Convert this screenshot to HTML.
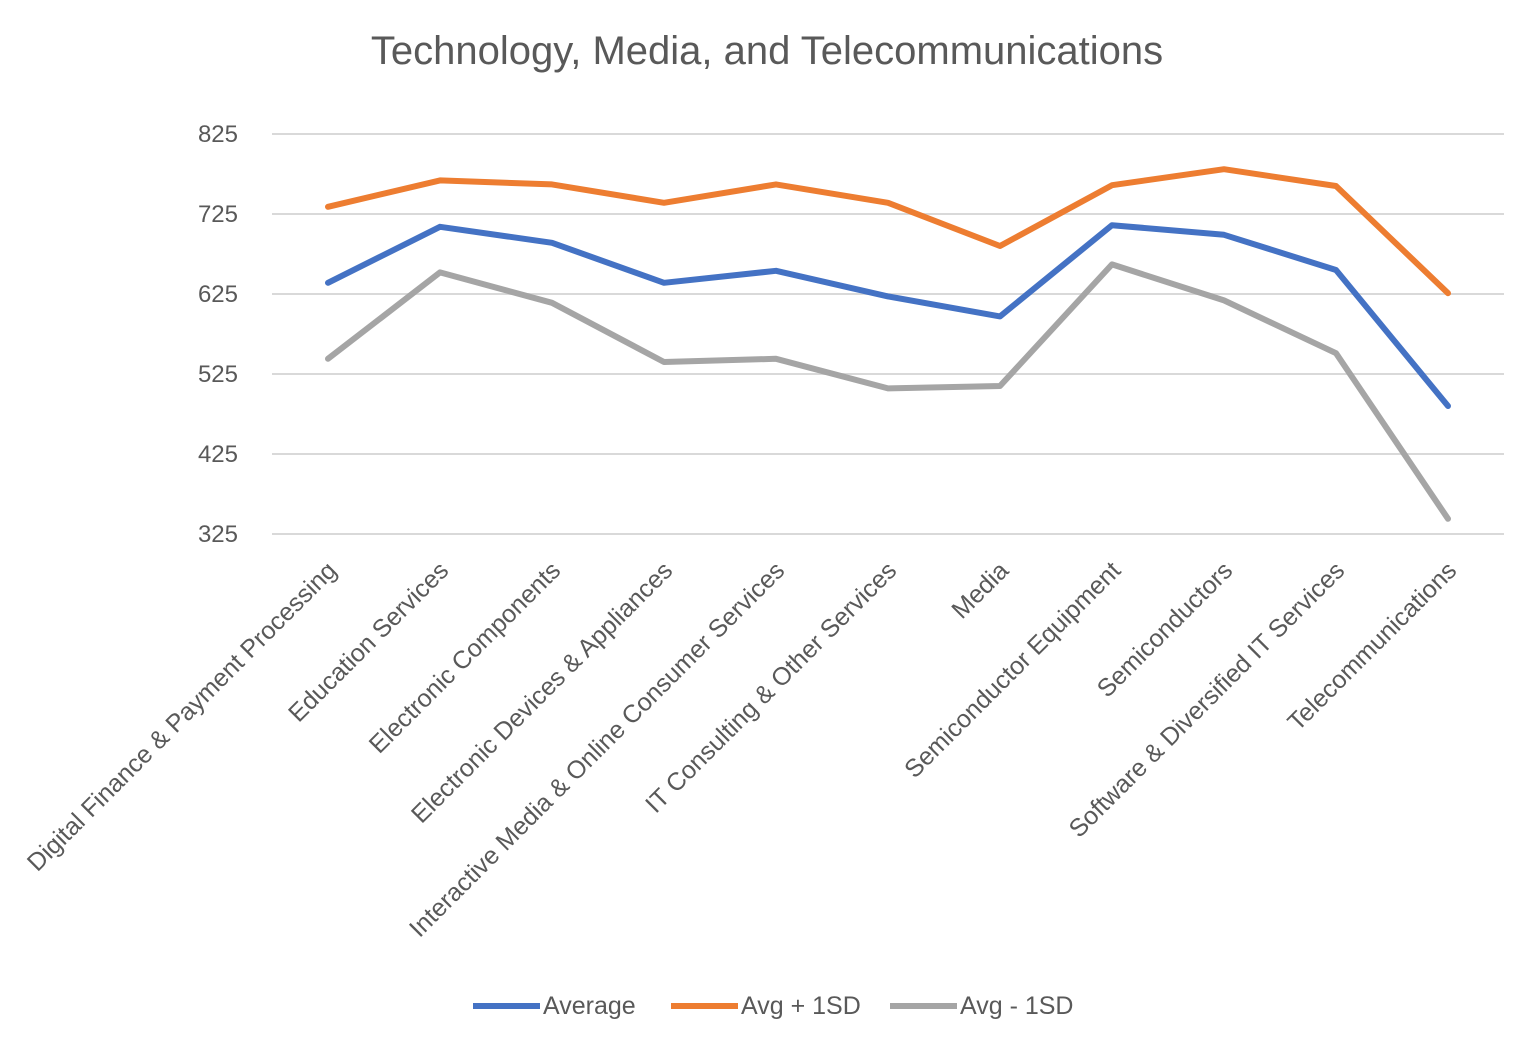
<!DOCTYPE html>
<html><head><meta charset="utf-8"><style>
body{margin:0;background:#fff;}
svg text{font-family:"Liberation Sans",sans-serif;fill:#595959;}
</style></head><body>
<svg id="chart" width="1536" height="1050">
<text x="767" y="64" text-anchor="middle" font-size="40">Technology, Media, and Telecommunications</text>
<g id="grid"></g><g id="xlabels"></g><g id="series"></g>
<g>
<line x1="473" y1="1006" x2="540" y2="1006" stroke="#4472C4" stroke-width="6"/>
<text x="543" y="1014" font-size="25">Average</text>
<line x1="671" y1="1006" x2="738" y2="1006" stroke="#ED7D31" stroke-width="6"/>
<text x="741" y="1014" font-size="25">Avg + 1SD</text>
<line x1="890" y1="1006" x2="957" y2="1006" stroke="#A5A5A5" stroke-width="6"/>
<text x="960" y="1014" font-size="25">Avg - 1SD</text>
</g>
</svg>
<script>
const categories=["Digital Finance & Payment Processing","Education Services","Electronic Components","Electronic Devices & Appliances","Interactive Media & Online Consumer Services","IT Consulting & Other Services","Media","Semiconductor Equipment","Semiconductors","Software & Diversified IT Services","Telecommunications"];
const average=[639,709,689,639,654,622,597,711,699,655,485];
const plus1sd=[734,767,762,739,762,739,685,761,781,760,626];
const minus1sd=[544,652,614,540,544,507,510,662,617,551,344];
const yTicks=[325,425,525,625,725,825];
const NS="http://www.w3.org/2000/svg";
const plotLeft=272,step=112,yMin=325,yMax=825,plotTop=134,plotBottom=534;
const xs=i=>plotLeft+step/2+i*step;
const ys=v=>plotBottom-(v-yMin)/(yMax-yMin)*(plotBottom-plotTop);
const grid=document.getElementById('grid');
yTicks.forEach(t=>{
 const l=document.createElementNS(NS,'line');
 l.setAttribute('x1',plotLeft);l.setAttribute('x2',plotLeft+step*categories.length);
 l.setAttribute('y1',ys(t));l.setAttribute('y2',ys(t));
 l.setAttribute('stroke','#d9d9d9');l.setAttribute('stroke-width','2');
 
 
 grid.appendChild(l);
 const tx=document.createElementNS(NS,'text');
 tx.setAttribute('x',238);tx.setAttribute('y',ys(t)+8);
 tx.setAttribute('text-anchor','end');tx.setAttribute('font-size','24');
 tx.textContent=t;
 
 
 grid.appendChild(tx);
});
const xl=document.getElementById('xlabels');
categories.forEach((c,i)=>{
 const tx=document.createElementNS(NS,'text');
 const x=xs(i)+10,y=572;
 tx.setAttribute('x',x);tx.setAttribute('y',y);
 tx.setAttribute('text-anchor','end');tx.setAttribute('font-size','25');
 tx.setAttribute('transform',`rotate(-45 ${x} ${y})`);
 tx.textContent=c;
 
 
 xl.appendChild(tx);
});
const sg=document.getElementById('series');
[[average,'#4472C4','series-average'],[plus1sd,'#ED7D31','series-avg-plus-1sd'],[minus1sd,'#A5A5A5','series-avg-minus-1sd']].forEach(([d,col,name])=>{
 const p=document.createElementNS(NS,'polyline');
 p.setAttribute('points',d.map((v,i)=>xs(i)+','+ys(v)).join(' '));
 p.setAttribute('fill','none');p.setAttribute('stroke',col);p.setAttribute('stroke-width','6');
 p.setAttribute('stroke-linejoin','round');p.setAttribute('stroke-linecap','round');
 
 
 sg.appendChild(p);
});
</script>
</body></html>
